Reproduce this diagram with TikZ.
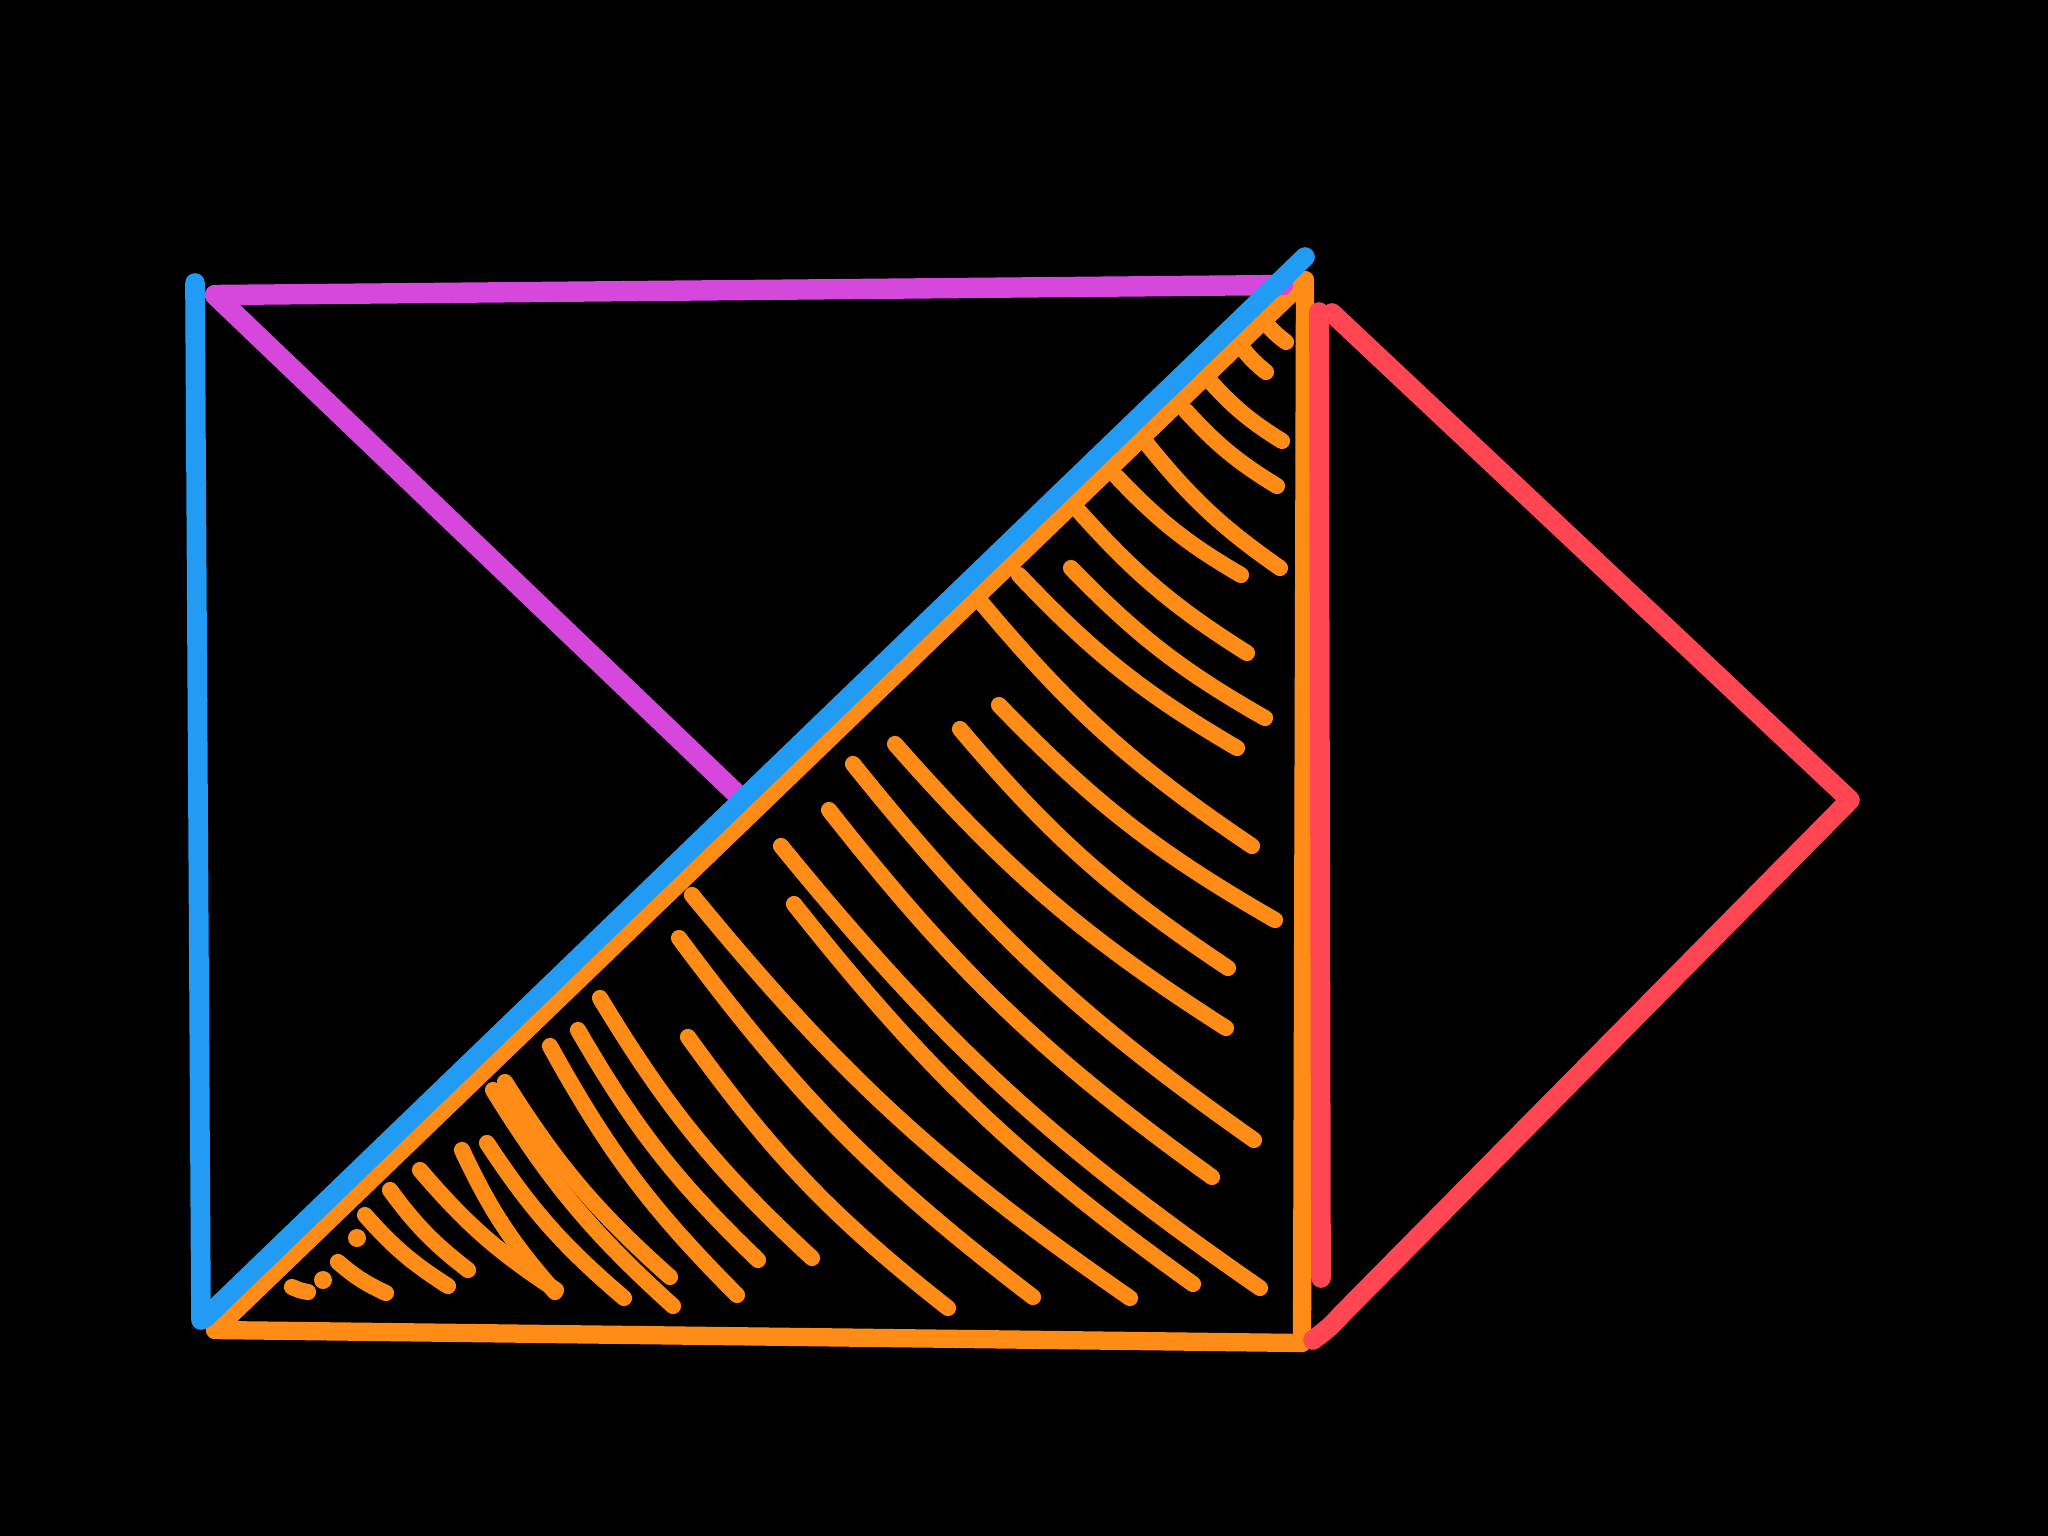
\documentclass[tikz,border=0pt]{standalone}
\definecolor{skyblue}{RGB}{33,155,243}
\definecolor{pinkish}{RGB}{214,72,220}
\definecolor{amber}{RGB}{255,140,22}
\definecolor{coral}{RGB}{255,70,82}
\begin{document}
\begin{tikzpicture}[x=0.01cm,y=-0.01cm,line join=round,line cap=round,
	blueline/.style={draw=skyblue,line width=5.6pt},
	pinkline/.style={draw=pinkish,line width=5.8pt},
	orangeline/.style={draw=amber,line width=5.2pt},
	redline/.style={draw=coral,line width=5.6pt},
	hatch/.style={draw=amber,line width=4.6pt}]
	\fill[black] (0,0) rectangle (2048,1536);
	\useasboundingbox (0,0) rectangle (2048,1536);
	% Dinh
	\coordinate (A) at (215,1330); \coordinate (C) at (1302,1343); \coordinate (B) at (1305,280);
	\coordinate (P) at (195,283); \coordinate (Q) at (201,1320);
	\coordinate (Bl) at (205,1318); \coordinate (Bt) at (1305,257);
	\coordinate (M) at (215,295); \coordinate (N) at (1283,285); \coordinate (O) at (742,799);
	\coordinate (R1) at (1319,312); \coordinate (R2) at (1321,1278);
	\coordinate (S) at (1332,313); \coordinate (T) at (1850,800); \coordinate (U) at (1313,1340);
	% Gach cheo
	\foreach \xa/\ya/\xb/\yb in {1262/318/1286/342, 1238/342/1266/372, 1208/379/1282/441,
		1186/411/1277/486, 1147/444/1280/568, 1117/477/1241/575, 1077/509/1247/653,
		1071/568/1265/718, 1019/575/1237/748, 980/601/1252/846, 999/705/1275/920,
		960/729/1228/968, 895/744/1226/1028, 853/764/1254/1140, 829/810/1212/1177,
		781/846/1260/1288, 794/904/1193/1284, 692/895/1130/1298, 679/938/1033/1297,
		688/1037/948/1308, 600/998/812/1258, 578/1030/758/1260, 550/1046/737/1295,
		505/1082/670/1277, 493/1090/673/1306, 487/1143/624/1298, 462/1150/555/1292,
		420/1170/556/1290, 390/1190/468/1270, 365/1215/448/1286, 338/1262/386/1293,
		292/1287/308/1292}
		\draw[hatch] (\xa,\ya) to[bend right=8] (\xb,\yb);
	\fill[amber] (357,1238) circle (9) (323,1280) circle (9);
	% Tam giac cam
	\draw[orangeline] (A)--(C)--(B)--cycle;
	% Tim
	\draw[pinkline] (N)--(M)--(O);
	% Xanh
	\draw[blueline] (P)--(Q);
	\draw[blueline] (Bl)--(Bt);
	% Do
	\draw[redline] (R1)--(R2);
	\draw[redline] (S)--(T)--(1342,1314) .. controls (1330,1327) .. (U);
\end{tikzpicture}
\end{document}
